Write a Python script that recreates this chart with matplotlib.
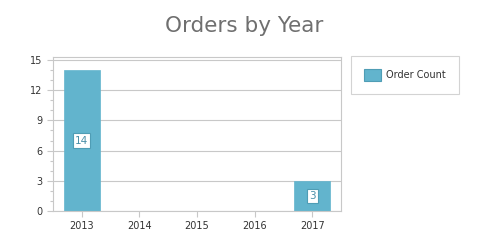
import matplotlib
matplotlib.use("Agg")
import matplotlib.pyplot as plt
from matplotlib.ticker import MultipleLocator
from matplotlib.patches import Patch

years = ["2013", "2014", "2015", "2016", "2017"]
order_count = [14, 0, 0, 0, 3]

bar_color = "#62b4cd"
edge_color = "#4f9db5"
grid_color = "#c8c8c8"

fig = plt.figure(figsize=(4.92, 2.49), dpi=100)
ax = fig.add_axes([0.1077, 0.1526, 0.5854, 0.6185])

x = list(range(len(years)))
bars = ax.bar(x, order_count, width=0.62, color=bar_color, edgecolor=bar_color, linewidth=0.5, zorder=2)

for xi, v in zip(x, order_count):
    if v > 0:
        ax.text(xi, v / 2, str(v), ha="center", va="center", fontsize=7.5, color="#4a8fa8",
                bbox=dict(boxstyle="square,pad=0.2", facecolor="white", edgecolor=edge_color, linewidth=0.8),
                zorder=3)

ax.set_xlim(-0.5, 4.5)
ax.set_ylim(0, 15.3)
ax.yaxis.set_major_locator(MultipleLocator(3))
ax.yaxis.set_minor_locator(MultipleLocator(1))
ax.set_xticks(x)
ax.set_xticklabels(years)
ax.grid(axis="y", which="major", color=grid_color, linewidth=0.8, zorder=0)
for s in ax.spines.values():
    s.set_color(grid_color)
    s.set_linewidth(0.8)
ax.tick_params(axis="both", which="major", labelsize=7, colors=grid_color, labelcolor="#333333", length=4, width=0.8)
ax.tick_params(axis="y", which="minor", colors=grid_color, length=2, width=0.8)

fig.text(0.497, 0.895, "Orders by Year", ha="center", va="center",
         fontsize=15.5, color="#6f6f6f")

leg = fig.legend(handles=[Patch(facecolor=bar_color, edgecolor=edge_color, linewidth=0.8, label="Order Count")],
                 loc="upper left", bbox_to_anchor=(0.713, 0.775), borderaxespad=0, fontsize=7, frameon=True,
                 fancybox=False, edgecolor=grid_color, borderpad=1.35, handlelength=1.75, handleheight=1.45,
                 handletextpad=0.5, labelcolor="#333333")
leg.get_frame().set_linewidth(0.8)

fig.savefig("out.png", dpi=100)
